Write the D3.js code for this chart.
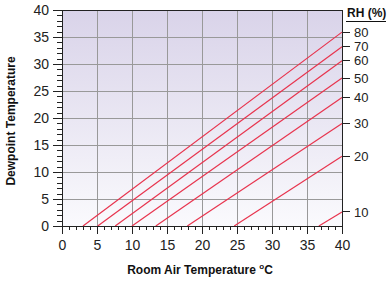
<!DOCTYPE html>
<html>
<head>
<meta charset="utf-8">
<script src="https://cdn.jsdelivr.net/npm/d3@7"></script>
<style>
  body { margin: 0; background: #fff; }
  text { font-family: "Liberation Sans", Arial, sans-serif; }
</style>
</head>
<body>
<div id="chart"></div>
<script>
// RH curves: where each line leaves the x axis (dewpoint 0)
// and where it hits the right edge (40 degC)
const rhLevels   = [80, 70, 60, 50, 40, 30, 20, 10];
const rhStartT   = [3.0, 5.1, 7.6, 10.0, 13.4, 17.9, 24.6, 36.7];
const rhEndDew   = [35.9, 33.2, 30.6, 27.4, 23.8, 19.0, 12.9, 2.6];
const xTicks = [0, 5, 10, 15, 20, 25, 30, 35, 40];
const yTicks = [0, 5, 10, 15, 20, 25, 30, 35, 40];

const W = 389, H = 284;
const margin = {top: 10, right: 47, bottom: 58, left: 62};
const width = W - margin.left - margin.right,
      height = H - margin.top - margin.bottom;

const svg = d3.select("#chart").append("svg")
  .attr("width", W).attr("height", H);

const x = d3.scaleLinear().domain([0, 40]).range([0, width]);
const y = d3.scaleLinear().domain([0, 40]).range([height, 0]);

const defs = svg.append("defs");
const grad = defs.append("linearGradient").attr("id", "bg")
  .attr("x1", 0).attr("y1", 0).attr("x2", 0).attr("y2", 1);
grad.append("stop").attr("offset", "0%").attr("stop-color", "#d9d3e9");
grad.append("stop").attr("offset", "100%").attr("stop-color", "#fafafd");

const g = svg.append("g").attr("transform", `translate(${margin.left},${margin.top})`);

g.append("rect").attr("width", width).attr("height", height).attr("fill", "url(#bg)");

// grid
g.append("g").selectAll("line").data(xTicks.slice(1, -1)).enter().append("line")
  .attr("x1", d => x(d)).attr("x2", d => x(d)).attr("y1", 0).attr("y2", height)
  .attr("stroke", "#999").attr("stroke-width", 1).attr("shape-rendering", "crispEdges");
g.append("g").selectAll("line").data(yTicks.slice(1, -1)).enter().append("line")
  .attr("y1", d => y(d)).attr("y2", d => y(d)).attr("x1", 0).attr("x2", width)
  .attr("stroke", "#999").attr("stroke-width", 1).attr("shape-rendering", "crispEdges");

// RH lines
const rows = rhLevels.map((rh, i) => ({rh: rh, pts: [[rhStartT[i], 0], [40, rhEndDew[i]]]}));
const line = d3.line().x(d => x(d[0])).y(d => y(d[1]));
g.append("g").selectAll("path").data(rows).enter().append("path")
  .attr("d", d => line(d.pts))
  .attr("fill", "none").attr("stroke", "#e8344e").attr("stroke-width", 1.2);

// frame
g.append("rect").attr("width", width).attr("height", height)
  .attr("fill", "none").attr("stroke", "#222").attr("stroke-width", 1)
  .attr("shape-rendering", "crispEdges");

// x axis: major + minor ticks
const xAxis = g.append("g").attr("transform", `translate(0,${height})`)
  .call(d3.axisBottom(x).tickValues(xTicks).tickSize(8).tickPadding(6).tickFormat(d3.format("d")));
g.append("g").attr("transform", `translate(0,${height})`)
  .call(d3.axisBottom(x).tickValues(d3.range(0, 41).filter(d => d % 5)).tickSize(4).tickFormat(""))
  .select(".domain").remove();

const yAxis = g.append("g")
  .call(d3.axisLeft(y).tickValues(yTicks).tickSize(9).tickPadding(4).tickFormat(d3.format("d")));
g.append("g")
  .call(d3.axisLeft(y).tickValues(d3.range(0, 41).filter(d => d % 5)).tickSize(5).tickFormat(""))
  .select(".domain").remove();

[xAxis, yAxis].forEach(a => {
  a.selectAll("text").attr("font-size", 14).attr("fill", "#222")
    .style("font-family", "'Liberation Sans', Arial, sans-serif");
});
svg.selectAll(".tick line, .domain").attr("stroke", "#222").attr("shape-rendering", "crispEdges");

// RH labels on the right
const rh = g.append("g").attr("transform", `translate(${width},0)`);
const rhG = rh.selectAll("g").data(rows).enter().append("g")
  .attr("transform", d => `translate(0,${y(d.pts[1][1])})`);
rhG.append("line").attr("x1", 0).attr("x2", 8).attr("stroke", "#222")
  .attr("shape-rendering", "crispEdges");
rhG.append("text").attr("x", 12).attr("dy", "0.35em")
  .attr("font-size", 13).attr("fill", "#222").text(d => d.rh);

svg.append("text").attr("x", 347).attr("y", 17)
  .attr("font-size", 12).attr("font-weight", "bold").attr("fill", "#111").text("RH (%)");
svg.append("line").attr("x1", 346).attr("x2", 386).attr("y1", 21.5).attr("y2", 21.5)
  .attr("stroke", "#111");

// axis titles
const xt = svg.append("text").attr("x", margin.left + width / 2 - 2).attr("y", 274)
  .attr("text-anchor", "middle").attr("font-size", 12).attr("font-weight", "bold").attr("fill", "#111");
xt.append("tspan").text("Room Air Temperature ");
xt.append("tspan").attr("font-size", 8).attr("dy", -5).text("o");
xt.append("tspan").attr("dy", 5).text("C");

svg.append("text").attr("transform", `translate(15,121) rotate(-90)`)
  .attr("text-anchor", "middle").attr("font-size", 12).attr("font-weight", "bold").attr("fill", "#111")
  .text("Dewpoint Temperature");
</script>
</body>
</html>
